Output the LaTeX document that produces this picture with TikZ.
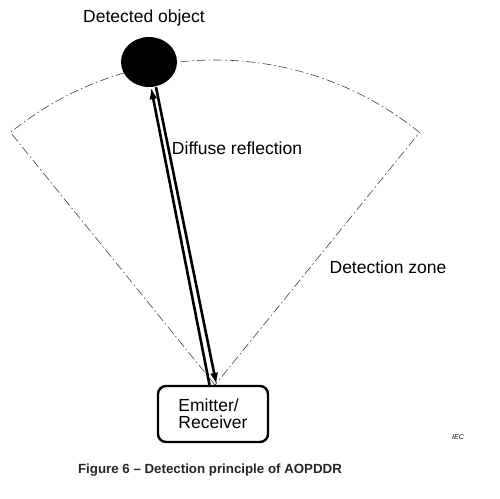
\documentclass[tikz,border=0pt]{standalone}
\usepackage{fontspec}
\setmainfont{Liberation Sans}
\usetikzlibrary{positioning,shapes.geometric,arrows.meta}

\begin{document}
\begin{tikzpicture}[x=1pt,y=1pt,>={Latex[length=12pt,width=8pt]},
      lbl/.style={font=\fontsize{17.5}{17}\selectfont},
      zone/.style={draw=black!75,line width=0.6pt,dash pattern=on 9pt off 3pt on 1.5pt off 3pt},
      beam/.style={line width=2.6pt}]
			\useasboundingbox (0,0) rectangle (500,-498);
			\coordinate (apex) at (215,-385);
			\draw[zone] (apex) -- ++(129:325pt) arc[start angle=129, end angle=51, radius=325pt] -- cycle;
			\node[ellipse, fill=black, minimum width=56pt, minimum height=50pt, inner sep=0pt] (object) at (149,-62) {};
			\node[draw, rounded corners=8pt, line width=2.4pt, minimum width=110pt, minimum height=56pt, align=left, lbl] (sensor) at (213,-414) {Emitter/\\Receiver};
			\node[lbl, above=7pt of object, xshift=-5pt] (objlbl) {Detected object};
			\node[lbl] (refl) at (237,-148) {Diffuse reflection};
			\node[lbl] (zonelbl) at (388,-267) {Detection zone};
			\node[font=\fontsize{7}{8}\selectfont\itshape] (iec) at (458,-437) {IEC};
			\node[font=\fontsize{13.3}{15}\selectfont\bfseries, text=black!85] (caption) at (210,-470) {Figure 6 – Detection principle of AOPDDR};
			\draw[beam,->] ([xshift=-3.5pt]sensor.north) -- ([xshift=2pt]object.south);
			\draw[beam,->] ([xshift=7pt]object.south) -- ([xshift=3.5pt]sensor.north);
		\end{tikzpicture}
\end{document}
